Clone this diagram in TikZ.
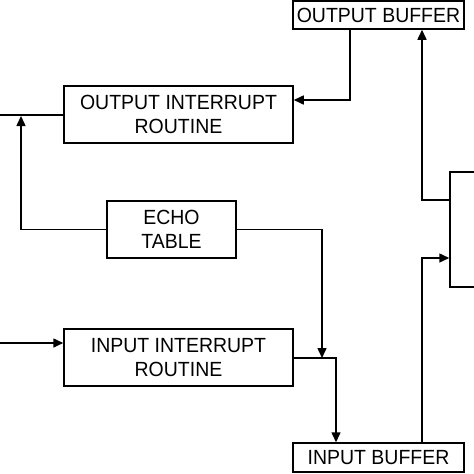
\documentclass[tikz,border=0pt]{standalone}
\usepackage{fontspec}
\setmainfont{Liberation Sans}[FakeStretch=0.95]
\usetikzlibrary{arrows.meta}
\begin{document}
\begin{tikzpicture}[x=1pt,y=-1pt,
  box/.style={draw,line width=1.5pt,inner sep=0pt,align=center,font=\fontsize{20.5}{24}\selectfont},
  conn/.style={line width=1.5pt},
  arr/.style={conn,-{Triangle[length=10pt,width=9pt]}}]
\useasboundingbox (0,0) rectangle (474,474);
\clip (0,0) rectangle (474,474);
\node[box,minimum width=171pt,minimum height=28pt] (outbuf) at (378.5,15) {OUTPUT BUFFER};
\node[box,minimum width=229pt,minimum height=57pt] (oir) at (178.5,114.5) {OUTPUT INTERRUPT\\ROUTINE};
\node[box,minimum width=129pt,minimum height=57pt] (echo) at (171.5,229.5) {ECHO\\TABLE};
\node[box,minimum width=229pt,minimum height=57pt] (iir) at (178.5,357.5) {INPUT INTERRUPT\\ROUTINE};
\node[box,minimum width=171pt,minimum height=29pt] (inbuf) at (378.5,457.5) {INPUT BUFFER};
\node[box,minimum width=80pt,minimum height=115pt] (proc) at (490,229.5) {};
\coordinate (lout) at (0,115);
\coordinate (lin) at (0,343);
% output buffer -> output interrupt routine
\draw[arr] (outbuf.south -| 350,0) |- (oir.east |- 0,100);
% output interrupt routine -> left
\draw[conn] (oir.west |- lout) -- (lout);
% echo table -> output line
\draw[arr] (echo.west) -| (21,116);
% echo table -> input junction
\draw[arr] (echo.east) -| (322,358);
% left input -> input interrupt routine
\draw[arr] (lin) -- (iir.west |- lin);
% input interrupt routine -> input buffer
\draw[arr] (iir.east |- 0,358) -| (inbuf.north -| 336,0);
% input buffer -> proc
\draw[arr] (inbuf.north -| 422,0) |- (proc.west |- 0,258);
% proc -> output buffer
\draw[arr] (proc.west |- 0,200) -| (outbuf.south -| 422,0);
\end{tikzpicture}
\end{document}
